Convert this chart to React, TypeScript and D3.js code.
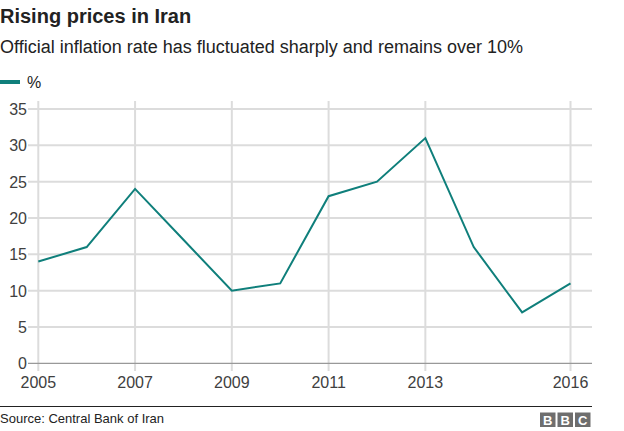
import React from "react";
import * as d3 from "d3";

const years = [2005, 2006, 2007, 2008, 2009, 2010, 2011, 2012, 2013, 2014, 2015, 2016];
const inflation = [14, 16, 24, 17, 10, 11, 23, 25, 31, 16, 7, 11];
const xTicks = [2005, 2007, 2009, 2011, 2013, 2016];
const yTicks = [0, 5, 10, 15, 20, 25, 30, 35];

const W = 624;
const H = 431;
const TEAL = "#0f7f7b";
const FONT = "'Liberation Sans', Arial, Helvetica, sans-serif";

export default function App() {
  const x = d3.scaleLinear().domain([2005, 2016]).range([38.3, 570.5]);
  const y = d3.scaleLinear().domain([0, 35]).range([363.3, 109]);
  const data = years.map((yr, i) => ({ yr, v: inflation[i] }));
  const line = d3
    .line<{ yr: number; v: number }>()
    .x((d) => x(d.yr))
    .y((d) => y(d.v));
  const gridLeft = 28;
  const gridRight = 592;

  return (
    <svg
      width={W}
      height={H}
      style={{ position: "absolute", left: 0, top: 0, background: "#fff" }}
      fontFamily={FONT}
    >
      <text x={0} y={23} fontSize={20} fontWeight="bold" fill="#222">
        Rising prices in Iran
      </text>
      <text x={0} y={53} fontSize={18} fill="#222">
        Official inflation rate has fluctuated sharply and remains over 10%
      </text>
      <rect x={0} y={80} width={20} height={4} fill={TEAL} />
      <text x={27} y={88} fontSize={16} fill="#222">
        %
      </text>

      {yTicks
        .filter((t) => t !== 0)
        .map((t) => (
          <line
            key={"h" + t}
            x1={gridLeft}
            x2={gridRight}
            y1={y(t)}
            y2={y(t)}
            stroke="#dcdcdc"
            strokeWidth={2}
          />
        ))}
      {xTicks.map((t) => (
        <line
          key={"v" + t}
          x1={x(t)}
          x2={x(t)}
          y1={101}
          y2={371}
          stroke="#dcdcdc"
          strokeWidth={2}
        />
      ))}
      <line
        x1={gridLeft}
        x2={gridRight}
        y1={y(0)}
        y2={y(0)}
        stroke="#999"
        strokeWidth={1.2}
      />
      {yTicks.map((t) => (
        <text
          key={"yl" + t}
          x={27}
          y={y(t) + 6}
          fontSize={16}
          textAnchor="end"
          fill="#404040"
        >
          {t}
        </text>
      ))}
      {xTicks.map((t) => (
        <text
          key={"xl" + t}
          x={x(t)}
          y={388}
          fontSize={16}
          textAnchor="middle"
          fill="#404040"
        >
          {t}
        </text>
      ))}

      <path d={line(data) || ""} fill="none" stroke={TEAL} strokeWidth={2} strokeLinejoin="miter" />

      <line x1={0} x2={592} y1={406.5} y2={406.5} stroke="#222" strokeWidth={1} />
      <text x={0} y={423} fontSize={13} fill="#222">
        Source: Central Bank of Iran
      </text>
      {["B", "B", "C"].map((c, i) => (
        <g key={"bbc" + i}>
          <rect x={540 + i * 17.5} y={412.5} width={15.5} height={14.5} fill="#6e6e6e" />
          <text
            x={540 + i * 17.5 + 7.75}
            y={424.5}
            fontSize={13}
            fontWeight="bold"
            textAnchor="middle"
            fill="#fff"
          >
            {c}
          </text>
        </g>
      ))}
    </svg>
  );
}
